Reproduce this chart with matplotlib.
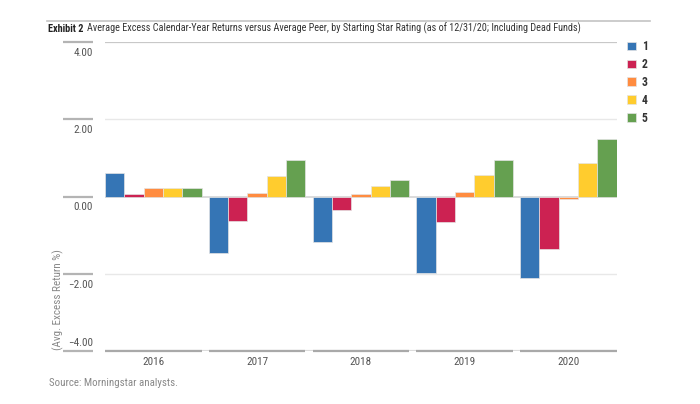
import matplotlib
matplotlib.use('Agg')
import matplotlib.pyplot as plt
from matplotlib import font_manager
from matplotlib.transforms import blended_transform_factory, ScaledTranslation
from matplotlib.patches import Patch
import numpy as np

# data
years = ['2016', '2017', '2018', '2019', '2020']
star_labels = ['1', '2', '3', '4', '5']
star1 = [0.61, -1.47, -1.17, -1.97, -2.10]
star2 = [0.06, -0.64, -0.36, -0.65, -1.35]
star3 = [0.23, 0.08, 0.06, 0.11, -0.06]
star4 = [0.21, 0.53, 0.28, 0.56, 0.86]
star5 = [0.21, 0.94, 0.44, 0.95, 1.49]
series = [star1, star2, star3, star4, star5]
colors = ['#3575b5', '#cc2252', '#ff8c40', '#ffcc2e', '#65a050']
yticks = [-4, -2, 0, 2, 4]

# pick a narrow font if one is around
names = set(f.name for f in font_manager.fontManager.ttflist)
font = 'DejaVu Sans'
for cand in ['Liberation Sans Narrow', 'Roboto Condensed', 'Open Sans Condensed', 'Roboto']:
    if cand in names:
        font = cand
        break
plt.rcParams['font.family'] = [font, 'DejaVu Sans']

W, H = 700, 404
fig = plt.figure(figsize=(W / 100, H / 100), dpi=100)

def fx(px):
    return px / W
def fy(py):
    return 1 - py / H

ax = fig.add_axes([fx(105), fy(351), fx(616.7) - fx(105), fy(42) - fy(351)])

n = len(series)
group_w = 0.932
bar_w = group_w / n
x = np.arange(len(years))
for i, vals in enumerate(series):
    off = -group_w / 2 + bar_w * (i + 0.5)
    ax.bar(x + off, vals, width=bar_w, color=colors[i], edgecolor='#e4e4e4',
           linewidth=0.5, zorder=3, label=star_labels[i])

ax.set_xlim(-group_w / 2, len(years) - 1 + group_w / 2)
ax.set_ylim(-4, 4)
for s in ax.spines.values():
    s.set_visible(False)
ax.set_xticks([])
ax.set_yticks([])

# gridlines
grid_style = {4: ('#c8c8c8', 1.6), 2: ('#e8e8e8', 1.0), 0: ('#d4d4d4', 1.2), -2: ('#e8e8e8', 1.0)}
for v, (c, lw) in grid_style.items():
    ax.axhline(v, color=c, lw=lw, zorder=1)
# bottom axis in segments under each group
for i in x:
    ax.plot([i - group_w / 2, i + group_w / 2], [-4, -4], color='#a9a9a9', lw=1.6,
            solid_capstyle='butt', clip_on=False, zorder=2)
ax.axhline(-4, color='#dcdcdc', lw=1.6, zorder=1)

# left stubs and labels next to them
trans = blended_transform_factory(ax.transAxes, ax.transData)
axw = fx(616.7) - fx(105)
stub0 = (63 - 105) / (axw * W)
stub1 = (93 - 105) / (axw * W)
for v in yticks:
    ax.plot([stub0, stub1], [v, v], transform=trans, color='#b4b4b4', lw=1.6,
            clip_on=False, solid_capstyle='butt')
    lab = ('%.2f' % v).replace('-', '\u2212')
    dy = 8 if v == yticks[0] else -11
    ax.text(stub1, v, lab, transform=trans + ScaledTranslation(0, dy / 100, fig.dpi_scale_trans),
            ha='right', va='center', fontsize=8, color='#555555')

# year labels
for i, yr in zip(x, years):
    ax.text(i, -4, yr, transform=ax.transData + ScaledTranslation(0, -11 / 100, fig.dpi_scale_trans),
            ha='center', va='center', fontsize=8, color='#555555')

# axis label
fig.text(fx(58), fy(350), '(Avg. Excess Return %)', rotation=90, ha='center', va='bottom',
         fontsize=8, color='#888888')

# title with rule above
fig.add_artist(plt.Line2D([fx(47), fx(650)], [fy(20.5), fy(20.5)], color='#c4c4c4', lw=1.2))
t1 = fig.text(fx(48), fy(28.5), 'Exhibit 2', fontsize=7.4, fontweight='bold', color='#222222',
              ha='left', va='center')
fig.canvas.draw()
bb = t1.get_window_extent()
fig.text(bb.x1 / W + fx(3.5), fy(28.5),
         'Average Excess Calendar-Year Returns versus Average Peer, by Starting Star Rating '
         '(as of 12/31/20; Including Dead Funds)',
         fontsize=7.3, color='#333333', ha='left', va='center')

# legend
handles = [Patch(facecolor=c, edgecolor='#e4e4e4', linewidth=0.5) for c in colors]
leg = fig.legend(handles, star_labels, loc='upper left', bbox_to_anchor=(fx(627), fy(40)),
                 frameon=False, handlelength=0.75, handleheight=0.75, handletextpad=0.5,
                 labelspacing=0.42, prop={'weight': 'bold', 'size': 8.5}, borderaxespad=0,
                 borderpad=0)
for t in leg.get_texts():
    t.set_color('#333333')

fig.text(fx(49), fy(383), 'Source: Morningstar analysts.', fontsize=7.8, color='#888888',
         ha='left', va='center')

fig.savefig('out.png', dpi=100)
